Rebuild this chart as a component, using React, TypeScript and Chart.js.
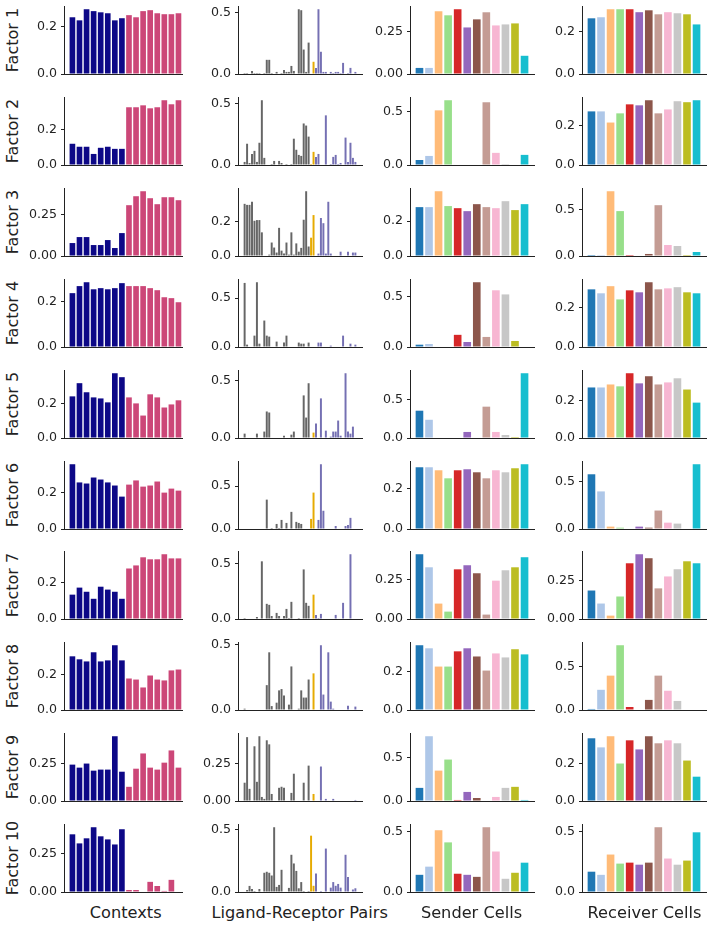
import React, { useEffect, useRef } from "react";
import { Chart, registerables } from "chart.js";

Chart.register(...registerables);

const FONT = "'DejaVu Sans', 'Liberation Sans', sans-serif";
const INK = "#222222";

const factorLabels = ["Factor 1", "Factor 2", "Factor 3", "Factor 4", "Factor 5", "Factor 6", "Factor 7", "Factor 8", "Factor 9", "Factor 10"];
const panelTitles = ["Contexts", "Ligand-Receptor Pairs", "Sender Cells", "Receiver Cells"];

const contextColors = [
  "#0d0887", "#0d0887", "#0d0887", "#0d0887", "#0d0887", "#0d0887", "#0d0887", "#0d0887",
  "#cc4778", "#cc4778", "#cc4778", "#cc4778", "#cc4778", "#cc4778", "#cc4778", "#cc4778",
];
const lrColors = [
  ...Array(27).fill("#666666"),
  "#e6ab02", "#e6ab02",
  ...Array(17).fill("#7570b3"),
];
const cellColors = ["#1f77b4", "#aec7e8", "#ffbb78", "#98df8a", "#d62728", "#9467bd", "#8c564b", "#c49c94", "#f7b6d2", "#c7c7c7", "#bcbd22", "#17becf"];

const contextLoadings = [
  [0.240, 0.227, 0.274, 0.266, 0.261, 0.257, 0.227, 0.236, 0.249, 0.240, 0.266, 0.270, 0.257, 0.253, 0.253, 0.257],
  [0.121, 0.104, 0.104, 0.063, 0.098, 0.104, 0.092, 0.092, 0.329, 0.329, 0.340, 0.323, 0.329, 0.369, 0.346, 0.369],
  [0.078, 0.114, 0.114, 0.066, 0.066, 0.096, 0.048, 0.138, 0.306, 0.360, 0.390, 0.348, 0.312, 0.354, 0.354, 0.336],
  [0.237, 0.268, 0.285, 0.254, 0.259, 0.254, 0.259, 0.281, 0.268, 0.268, 0.268, 0.259, 0.250, 0.219, 0.215, 0.197],
  [0.243, 0.320, 0.267, 0.237, 0.231, 0.208, 0.378, 0.355, 0.237, 0.202, 0.131, 0.255, 0.237, 0.178, 0.196, 0.220],
  [0.356, 0.256, 0.250, 0.283, 0.272, 0.256, 0.239, 0.178, 0.244, 0.267, 0.233, 0.239, 0.261, 0.200, 0.222, 0.211],
  [0.135, 0.174, 0.151, 0.112, 0.179, 0.163, 0.151, 0.112, 0.280, 0.297, 0.342, 0.331, 0.331, 0.359, 0.336, 0.336],
  [0.305, 0.288, 0.276, 0.328, 0.276, 0.282, 0.368, 0.282, 0.179, 0.173, 0.128, 0.196, 0.173, 0.168, 0.225, 0.230],
  [0.241, 0.221, 0.248, 0.201, 0.208, 0.208, 0.429, 0.194, 0.094, 0.214, 0.315, 0.221, 0.208, 0.254, 0.335, 0.221],
  [0.375, 0.316, 0.349, 0.421, 0.362, 0.342, 0.309, 0.408, 0.013, 0.013, 0.000, 0.066, 0.039, 0.007, 0.079, 0.000],
];

const lrLoadings = [
  [0.008, 0.008, 0, 0.025, 0.008, 0.008, 0.008, 0, 0.008, 0.116, 0.116, 0.008, 0, 0.017, 0, 0.008, 0.033, 0.017, 0.017, 0.066, 0.025, 0, 0.530, 0.522, 0.200, 0.017, 0.257, 0, 0.100, 0.050, 0.530, 0.182, 0.017, 0.017, 0, 0.017, 0.008, 0.017, 0.017, 0.008, 0.091, 0, 0.008, 0.050, 0, 0.017],
  [0.025, 0.173, 0.016, 0.090, 0.115, 0.025, 0.181, 0.527, 0.058, 0, 0, 0.008, 0.033, 0, 0.033, 0.016, 0, 0.008, 0, 0.008, 0.214, 0.124, 0.082, 0.074, 0.338, 0.321, 0.231, 0.008, 0.107, 0.066, 0.090, 0, 0, 0.404, 0, 0.008, 0.066, 0.082, 0.008, 0.016, 0, 0.223, 0.025, 0.181, 0.058, 0.025],
  [0.302, 0.296, 0.296, 0.314, 0.204, 0.208, 0.208, 0.137, 0, 0, 0.008, 0.078, 0.049, 0.020, 0.163, 0.031, 0.014, 0.078, 0.008, 0.137, 0.008, 0.073, 0.025, 0.047, 0.210, 0.375, 0.055, 0.106, 0.237, 0, 0.014, 0.220, 0.190, 0.014, 0.314, 0.014, 0, 0, 0, 0.025, 0, 0, 0.025, 0, 0.020, 0.020],
  [0.654, 0.024, 0, 0, 0.116, 0.661, 0.034, 0, 0.270, 0.116, 0.106, 0, 0, 0.055, 0, 0, 0.045, 0.116, 0, 0, 0, 0, 0.045, 0.034, 0.034, 0, 0.045, 0, 0, 0, 0.045, 0.045, 0, 0, 0, 0.014, 0, 0, 0, 0, 0.116, 0, 0, 0.034, 0, 0.024],
  [0.038, 0, 0, 0, 0, 0.038, 0, 0, 0.056, 0.231, 0.222, 0, 0, 0, 0, 0, 0.020, 0, 0, 0.029, 0.056, 0, 0, 0, 0.371, 0.178, 0.477, 0, 0.047, 0.126, 0, 0.345, 0, 0.064, 0, 0.012, 0.056, 0.056, 0.152, 0.020, 0, 0.564, 0.056, 0.038, 0.099, 0],
  [0, 0, 0, 0, 0, 0, 0, 0, 0, 0.343, 0, 0.012, 0, 0.059, 0.012, 0.106, 0, 0.071, 0, 0.200, 0, 0.083, 0.071, 0.059, 0, 0, 0, 0.118, 0.425, 0, 0.106, 0.756, 0.213, 0, 0, 0, 0, 0.035, 0, 0, 0, 0.035, 0.047, 0.130, 0, 0],
  [0.009, 0, 0, 0, 0, 0.018, 0, 0.521, 0, 0.137, 0.128, 0.027, 0, 0.055, 0.027, 0, 0.027, 0.091, 0.009, 0.155, 0, 0, 0.009, 0, 0.448, 0.146, 0.119, 0, 0.220, 0.037, 0.009, 0.046, 0, 0, 0, 0, 0, 0.037, 0, 0, 0.146, 0, 0, 0.585, 0, 0],
  [0.010, 0, 0, 0, 0, 0, 0, 0, 0, 0.190, 0.441, 0.030, 0, 0.056, 0.150, 0.160, 0.110, 0, 0.041, 0.333, 0, 0, 0.010, 0.150, 0.095, 0.095, 0.233, 0, 0.280, 0, 0, 0.495, 0.118, 0, 0.441, 0.064, 0.010, 0, 0, 0, 0, 0, 0.033, 0, 0, 0.026],
  [0.122, 0.426, 0.081, 0, 0.365, 0.128, 0.432, 0.027, 0.014, 0.405, 0.378, 0.047, 0, 0, 0.088, 0.095, 0.088, 0, 0, 0.054, 0.182, 0, 0, 0, 0.122, 0, 0.236, 0, 0.047, 0, 0, 0.230, 0, 0.014, 0, 0, 0.014, 0, 0, 0, 0, 0, 0, 0, 0, 0.007],
  [0, 0.016, 0.049, 0.024, 0.008, 0, 0.024, 0, 0.155, 0.163, 0.155, 0.133, 0.522, 0.041, 0.057, 0.179, 0, 0, 0.033, 0.300, 0.230, 0.170, 0.030, 0.080, 0.008, 0, 0.008, 0.454, 0.050, 0.150, 0, 0.008, 0, 0.350, 0, 0.035, 0.080, 0.050, 0.065, 0.035, 0, 0.300, 0.120, 0, 0.020, 0.030],
];

const senderLoadings = [
  [0.036, 0.036, 0.372, 0.348, 0.384, 0.276, 0.324, 0.366, 0.288, 0.294, 0.300, 0.108],
  [0.047, 0.085, 0.513, 0.608, 0, 0, 0, 0.589, 0.114, 0.009, 0, 0.095],
  [0.280, 0.280, 0.371, 0.286, 0.274, 0.257, 0.297, 0.280, 0.274, 0.314, 0.263, 0.297],
  [0.023, 0.030, 0, 0, 0.121, 0.050, 0.644, 0.100, 0.564, 0.523, 0.060, 0],
  [0.352, 0.235, 0, 0, 0, 0.078, 0, 0.404, 0.078, 0.039, 0.013, 0.835],
  [0.307, 0.307, 0.292, 0.252, 0.292, 0.297, 0.282, 0.252, 0.292, 0.282, 0.302, 0.322],
  [0.412, 0.329, 0.098, 0.047, 0.316, 0.342, 0.291, 0.028, 0.244, 0.310, 0.329, 0.393],
  [0.340, 0.324, 0.228, 0.228, 0.308, 0.324, 0.281, 0.207, 0.297, 0.276, 0.319, 0.292],
  [0.152, 0.750, 0.352, 0.480, 0.012, 0.105, 0.035, 0, 0.047, 0.152, 0.164, 0.012],
  [0.143, 0.211, 0.514, 0.413, 0.152, 0.143, 0.126, 0.539, 0.337, 0.110, 0.160, 0.244],
];

const receiverLoadings = [
  [0.264, 0.269, 0.307, 0.307, 0.307, 0.293, 0.302, 0.283, 0.293, 0.288, 0.283, 0.235],
  [0.274, 0.274, 0.217, 0.264, 0.310, 0.305, 0.331, 0.264, 0.284, 0.326, 0.321, 0.331],
  [0.011, 0.011, 0.701, 0.486, 0.011, 0, 0.022, 0.550, 0.119, 0.108, 0.011, 0.043],
  [0.292, 0.272, 0.308, 0.241, 0.287, 0.277, 0.328, 0.292, 0.297, 0.303, 0.277, 0.272],
  [0.270, 0.270, 0.286, 0.276, 0.346, 0.292, 0.330, 0.286, 0.297, 0.319, 0.259, 0.189],
  [0.578, 0.397, 0.025, 0.014, 0, 0.025, 0.014, 0.195, 0.067, 0.057, 0, 0.684],
  [0.186, 0.101, 0.022, 0.147, 0.364, 0.423, 0.397, 0.200, 0.278, 0.325, 0.377, 0.364],
  [0.012, 0.234, 0.398, 0.750, 0.035, 0, 0.117, 0.398, 0.223, 0.105, 0, 0],
  [0.338, 0.289, 0.349, 0.202, 0.327, 0.278, 0.349, 0.311, 0.327, 0.311, 0.218, 0.131],
  [0.168, 0.142, 0.310, 0.235, 0.243, 0.226, 0.243, 0.536, 0.277, 0.226, 0.260, 0.494],
];

const contextTickSteps = [0.2, 0.2, 0.25, 0.2, 0.2, 0.2, 0.2, 0.2, 0.25, 0.25];
const lrTickSteps = [0.5, 0.5, 0.2, 0.5, 0.5, 0.5, 0.5, 0.5, 0.25, 0.5];
const senderTickSteps = [0.25, 0.5, 0.2, 0.5, 0.5, 0.2, 0.25, 0.2, 0.5, 0.5];
const receiverTickSteps = [0.2, 0.2, 0.5, 0.2, 0.2, 0.5, 0.25, 0.5, 0.2, 0.5];

// layout (page pixels)
const ROW_TOP = 6;
const ROW_PITCH = 90.9;
const PLOT_H = 68;
const COL_LEFT = [64.3, 237.7, 409.7, 582.3];
const COL_W = [118, 124, 124, 124];
const TITLE_X = [125.7, 299.7, 471.5, 644.5];
const Y_W = 46;
const PAD_T = 9;
const PAD_R = 3;
const X_H = 10;

type PanelProps = { values: number[]; colors: string[]; step: number; left: number; top: number; plotW: number; xMin: number; xMax: number };

function BarPanel({ values, colors, step, left, top, plotW, xMin, xMax }: PanelProps) {
  const ref = useRef<HTMLCanvasElement>(null);
  const width = Y_W + plotW + PAD_R;
  const height = PAD_T + PLOT_H + X_H;
  useEffect(() => {
    if (!ref.current) return;
    const ymax = 1.05 * Math.max(...values);
    const decimals = step === 0.25 ? 2 : 1;
    const chart = new Chart(ref.current, {
      type: "bar",
      data: {
        datasets: [
          {
            data: values.map((v, i) => ({ x: i, y: v })),
            backgroundColor: colors,
            borderWidth: 0,
            barPercentage: 0.8,
            categoryPercentage: 1,
          },
        ],
      },
      options: {
        animation: false,
        responsive: false,
        maintainAspectRatio: false,
        events: [],
        layout: { padding: { left: 0, top: PAD_T, right: PAD_R, bottom: 0 } },
        plugins: { legend: { display: false }, tooltip: { enabled: false }, title: { display: false } },
        scales: {
          x: {
            type: "linear",
            min: xMin,
            max: xMax,
            offset: false,
            grid: { display: false },
            border: { display: true, color: INK, width: 1 },
            ticks: { display: false },
            afterFit: (s: any) => {
              s.height = X_H;
              s.paddingLeft = 0;
              s.paddingRight = 0;
            },
          },
          y: {
            type: "linear",
            min: 0,
            max: ymax,
            grid: { display: true, drawOnChartArea: false, drawTicks: true, tickLength: 3, color: INK, tickColor: INK, lineWidth: 1 },
            border: { display: true, color: INK, width: 1 },
            ticks: {
              font: { family: FONT, size: 12.6 },
              color: INK,
              padding: 4,
              autoSkip: false,
              callback: (v: any) => Number(v).toFixed(decimals),
            },
            afterBuildTicks: (s: any) => {
              const t: { value: number }[] = [];
              for (let k = 0; k * step <= ymax + 1e-9; k++) t.push({ value: +(k * step).toFixed(4) });
              s.ticks = t;
            },
            afterFit: (s: any) => {
              s.width = Y_W;
              s.paddingTop = 0;
              s.paddingBottom = 0;
            },
          },
        },
      } as any,
    });
    return () => chart.destroy();
  }, [values, colors, step, xMin, xMax]);
  return (
    <canvas
      ref={ref}
      width={width}
      height={height}
      style={{ position: "absolute", left, top, width, height }}
    />
  );
}

const panels = [
  { data: contextLoadings, colors: contextColors, steps: contextTickSteps, xMin: -1.19, xMax: 15.5 },
  { data: lrLoadings, colors: lrColors, steps: lrTickSteps, xMin: -2.69, xMax: 47.69 },
  { data: senderLoadings, colors: cellColors, steps: senderTickSteps, xMin: -0.99, xMax: 11.99 },
  { data: receiverLoadings, colors: cellColors, steps: receiverTickSteps, xMin: -0.99, xMax: 11.99 },
];

export default function App() {
  return (
    <div style={{ position: "absolute", left: 0, top: 0, width: 712, height: 928, background: "#fff", overflow: "hidden", fontFamily: FONT, color: INK }}>
      {factorLabels.map((lab, r) => {
        const top = Math.round(ROW_TOP + r * ROW_PITCH);
        return (
          <React.Fragment key={lab}>
            <div
              style={{
                position: "absolute",
                left: 13,
                top: top + PLOT_H / 2,
                transform: "translate(-50%, -50%) rotate(-90deg)",
                whiteSpace: "nowrap",
                fontSize: 16,
                lineHeight: 1,
              }}
            >
              {lab}
            </div>
            {panels.map((p, c) => (
              <BarPanel
                key={c}
                values={p.data[r]}
                colors={p.colors}
                step={p.steps[r]}
                plotW={COL_W[c]}
                xMin={p.xMin}
                xMax={p.xMax}
                left={Math.round(COL_LEFT[c]) - Y_W}
                top={top - PAD_T}
              />
            ))}
          </React.Fragment>
        );
      })}
      {panelTitles.map((t, c) => (
        <div
          key={t}
          style={{
            position: "absolute",
            left: TITLE_X[c],
            top: 913,
            transform: "translate(-50%, -50%)",
            whiteSpace: "nowrap",
            fontSize: 16.2,
            lineHeight: 1,
          }}
        >
          {t}
        </div>
      ))}
    </div>
  );
}
